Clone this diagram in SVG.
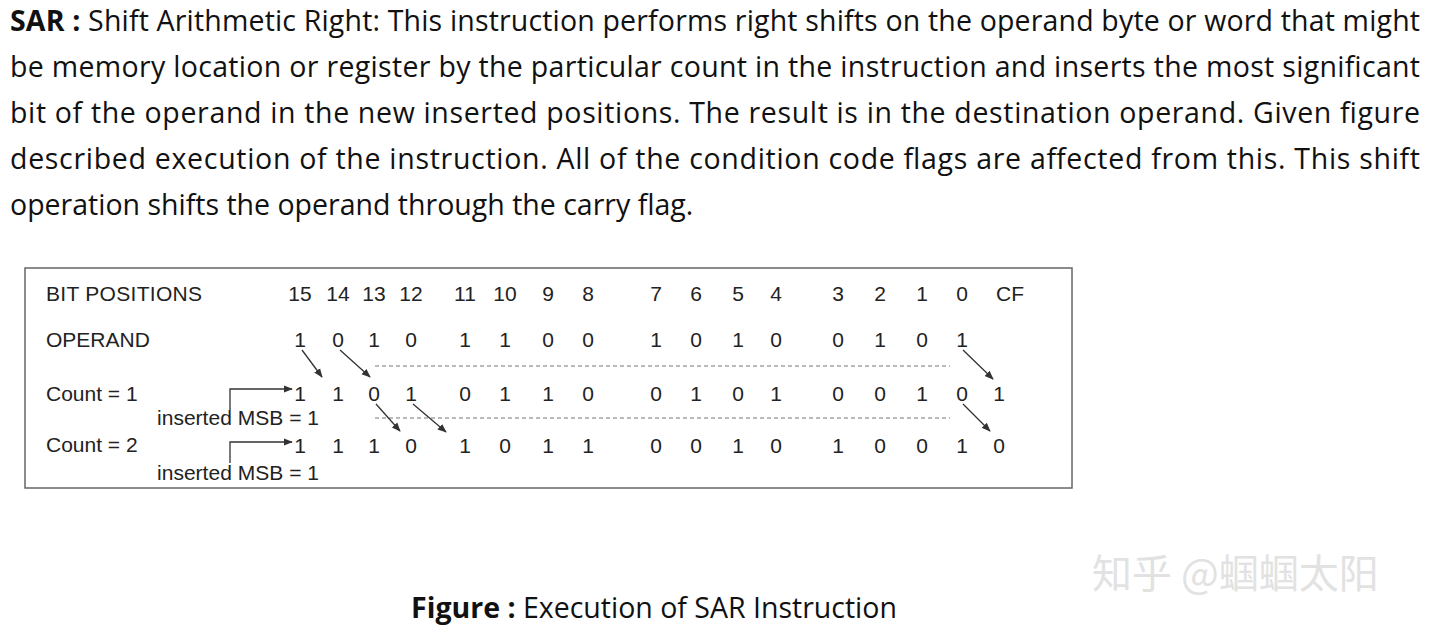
<svg xmlns="http://www.w3.org/2000/svg" width="1440" height="634" viewBox="0 0 1440 634">
<style>
.p{font-family:"Open Sans","Noto Sans",sans-serif;font-size:28.5px;fill:#111}
.d{font-family:"Liberation Sans",Arial,sans-serif;font-size:21px;fill:#222;text-anchor:middle}
.l{font-family:"Liberation Sans",Arial,sans-serif;font-size:21px;fill:#222}
.ar{stroke:#333;stroke-width:1.3;fill:none;marker-end:url(#a)}
.dash{stroke:#777;stroke-width:1;stroke-dasharray:4 3}
</style>
<defs><marker id="a" viewBox="0 0 10 10" refX="9" refY="5" markerWidth="7" markerHeight="7" orient="auto"><path d="M0,1L10,5L0,9z" fill="#333"/></marker></defs>
<rect width="1440" height="634" fill="#fff"/>
<g id="paragraph">
<text class="p" x="10" y="31" textLength="1410" lengthAdjust="spacing"><tspan font-weight="bold">SAR :</tspan> Shift Arithmetic Right: This instruction performs right shifts on the operand byte or word that might</text>
<text class="p" x="10" y="77" textLength="1410" lengthAdjust="spacing">be memory location or register by the particular count in the instruction and inserts the most significant</text>
<text class="p" x="10" y="123" textLength="1410" lengthAdjust="spacing">bit of the operand in the new inserted positions. The result is in the destination operand. Given figure</text>
<text class="p" x="10" y="169" textLength="1410" lengthAdjust="spacing">described execution of the instruction. All of the condition code flags are affected from this. This shift</text>
<text class="p" x="10" y="215">operation shifts the operand through the carry flag.</text>
</g>
<g id="figure">
<rect x="25" y="268" width="1047" height="220" fill="none" stroke="#666" stroke-width="1.5"/>
<text class="l" x="46" y="301" textLength="156">BIT POSITIONS</text>
<text class="l" x="46" y="347">OPERAND</text>
<text class="l" x="46" y="401">Count = 1</text>
<text class="l" x="46" y="452">Count = 2</text>
<text class="l" x="157" y="425" textLength="162">inserted MSB = 1</text>
<text class="l" x="157" y="480" textLength="162">inserted MSB = 1</text>
<g id="bitpos">
<text class="d" x="300" y="301">15</text><text class="d" x="338" y="301">14</text><text class="d" x="374" y="301">13</text><text class="d" x="411" y="301">12</text>
<text class="d" x="465" y="301">11</text><text class="d" x="505" y="301">10</text><text class="d" x="548" y="301">9</text><text class="d" x="588" y="301">8</text>
<text class="d" x="656" y="301">7</text><text class="d" x="696" y="301">6</text><text class="d" x="738" y="301">5</text><text class="d" x="776" y="301">4</text>
<text class="d" x="838" y="301">3</text><text class="d" x="880" y="301">2</text><text class="d" x="922" y="301">1</text><text class="d" x="962" y="301">0</text>
<text class="d" x="1010" y="301">CF</text>
</g>
<g id="operand">
<text class="d" x="300" y="347">1</text><text class="d" x="338" y="347">0</text><text class="d" x="374" y="347">1</text><text class="d" x="411" y="347">0</text>
<text class="d" x="465" y="347">1</text><text class="d" x="505" y="347">1</text><text class="d" x="548" y="347">0</text><text class="d" x="588" y="347">0</text>
<text class="d" x="656" y="347">1</text><text class="d" x="696" y="347">0</text><text class="d" x="738" y="347">1</text><text class="d" x="776" y="347">0</text>
<text class="d" x="838" y="347">0</text><text class="d" x="880" y="347">1</text><text class="d" x="922" y="347">0</text><text class="d" x="962" y="347">1</text>
</g>
<g id="count1">
<text class="d" x="300" y="401">1</text><text class="d" x="338" y="401">1</text><text class="d" x="374" y="401">0</text><text class="d" x="411" y="401">1</text>
<text class="d" x="465" y="401">0</text><text class="d" x="505" y="401">1</text><text class="d" x="548" y="401">1</text><text class="d" x="588" y="401">0</text>
<text class="d" x="656" y="401">0</text><text class="d" x="696" y="401">1</text><text class="d" x="738" y="401">0</text><text class="d" x="776" y="401">1</text>
<text class="d" x="838" y="401">0</text><text class="d" x="880" y="401">0</text><text class="d" x="922" y="401">1</text><text class="d" x="962" y="401">0</text>
<text class="d" x="999" y="401">1</text>
</g>
<g id="count2">
<text class="d" x="300" y="453">1</text><text class="d" x="338" y="453">1</text><text class="d" x="374" y="453">1</text><text class="d" x="411" y="453">0</text>
<text class="d" x="465" y="453">1</text><text class="d" x="505" y="453">0</text><text class="d" x="548" y="453">1</text><text class="d" x="588" y="453">1</text>
<text class="d" x="656" y="453">0</text><text class="d" x="696" y="453">0</text><text class="d" x="738" y="453">1</text><text class="d" x="776" y="453">0</text>
<text class="d" x="838" y="453">1</text><text class="d" x="880" y="453">0</text><text class="d" x="922" y="453">0</text><text class="d" x="962" y="453">1</text>
<text class="d" x="999" y="453">0</text>
</g>
</g>
<g id="connectors">
<line class="dash" x1="375" y1="366" x2="950" y2="366"/>
<line class="dash" x1="375" y1="418" x2="950" y2="418"/>
<line class="ar" x1="302" y1="350" x2="322" y2="377"/>
<line class="ar" x1="340" y1="350" x2="370" y2="377"/>
<line class="ar" x1="963" y1="350" x2="993" y2="379"/>
<line class="ar" x1="376" y1="404" x2="400" y2="431"/>
<line class="ar" x1="413" y1="404" x2="446" y2="432"/>
<line class="ar" x1="963" y1="404" x2="990" y2="431"/>
<polyline class="ar" points="230,410 230,389 292,389"/>
<polyline class="ar" points="230,463 230,442 292,442"/>
</g>
<text x="1092" y="588" font-family="'Noto Sans CJK SC',sans-serif" font-size="40" fill="#e2e2e2">知乎 @蝈蝈太阳</text>
<text x="654" y="618" text-anchor="middle" class="p" font-size="29"><tspan font-weight="bold">Figure :</tspan> Execution of SAR Instruction</text>
</svg>
